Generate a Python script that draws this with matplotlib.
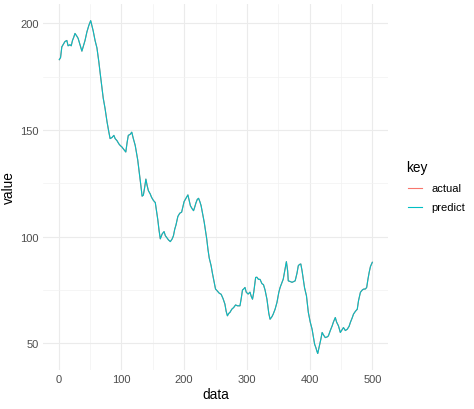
import matplotlib
matplotlib.use("Agg")
import matplotlib.pyplot as plt
from matplotlib.lines import Line2D
import numpy as np

plt.rcParams['font.family'] = ['Liberation Sans', 'DejaVu Sans']

data_x = [1, 3, 5, 7, 10, 13, 15, 18, 20, 22, 24, 26, 29, 31, 34, 37, 39, 42, 45, 48,
          51, 53, 55, 58, 61, 64, 66, 69, 71, 74, 77, 80, 82, 85, 88, 90, 93, 96, 98, 101,
          103, 107, 109, 111, 114, 116.5, 119, 122, 126, 129, 131, 133, 135, 137, 139, 141, 143, 146, 148, 151,
          154, 156, 158, 160, 162, 165, 168, 170, 172, 175, 178, 181, 183, 185, 187, 190, 193, 196, 198, 200,
          203, 206, 208, 210, 213, 215, 217, 219, 221, 223, 225, 227, 230, 232, 234, 236, 238, 240, 243, 245,
          247, 250, 253, 256, 259, 262, 265, 267, 269, 271, 273, 276, 279, 282, 285, 289, 291, 293, 295, 297,
          299, 302, 305, 307, 309, 311, 314, 316, 318.5, 321, 324, 326.5, 329, 332, 335, 337, 340, 342, 345, 348,
          351, 353, 356, 358, 361, 363, 365, 366, 369, 372, 375, 377, 380, 382, 384, 386, 388, 390, 392, 395,
          397, 398, 401, 404, 406, 408, 410, 412, 413, 415, 418, 420, 422, 425, 428, 430, 433, 436, 438, 441,
          443, 446, 449, 451, 454, 457, 460, 463, 465, 468, 470, 473, 476, 478, 481, 484, 486, 489, 491, 493,
          495, 497, 500]

predict = [183, 184, 189, 190, 191.5, 192, 189.5, 190, 189.5, 192, 193.5, 195.3, 194, 193, 190, 187, 189, 192, 196, 199,
           201.3, 199, 196.5, 192, 188.5, 182, 177, 170, 165, 160, 154, 149, 146, 146.5, 147.5, 146, 145, 143.5, 142.8, 142,
           141.2, 139.7, 144, 147.5, 148, 149, 146, 142.8, 136, 129, 124, 119, 119.5, 123, 127, 124, 121.6, 120, 118.5, 117,
           116, 112, 108, 103, 99, 101.3, 102.4, 100.5, 99.7, 98.5, 97.7, 99, 100.5, 103.5, 105.5, 109.5, 111, 111.5, 114, 116.5,
           118, 119.6, 117, 114.5, 113, 112.2, 114, 116, 117.5, 118, 116.5, 114.6, 110, 106.8, 103, 99, 94, 90, 86.4, 83,
           80, 75.5, 74.5, 73.5, 73, 71, 68.4, 65, 62.9, 64, 64.5, 66, 66.8, 68, 67.6, 67.6, 71, 75, 75.5, 76.2,
           74, 73.1, 74, 72, 70.7, 74, 80.9, 81, 80, 80, 78, 77.5, 75, 70.7, 64, 61.3, 62.5, 63.7, 66, 69.2,
           74, 76.2, 78.5, 80.1, 85, 88.3, 84, 79.3, 79, 78.6, 79, 79.3, 83, 86.4, 87, 87.2, 84, 80.1, 76, 72.3,
           67, 64.5, 60, 56.6, 53, 49.6, 48, 46, 45.3, 48, 52, 55.1, 54, 52.7, 53, 53.5, 56, 58.2, 60, 62.1,
           60, 58.2, 55.1, 56, 57.4, 56, 56.6, 58, 59.8, 62, 63.7, 65, 66, 70, 73.9, 75, 75.4, 75.5, 76.2, 80,
           83.3, 86, 88]

actual = list(predict)

series_names = ["actual", "predict"]
series_colors = ["#F8766D", "#00BFC4"]
x_ticks = [0, 100, 200, 300, 400, 500]
y_ticks = [50, 100, 150, 200]

W, H = 474, 410
fig = plt.figure(figsize=(W / 100, H / 100), dpi=100)
ax = fig.add_axes([43 / W, 1 - 371 / H, (388 - 43) / W, (371 - 5) / H])

ax.plot(data_x, actual, color=series_colors[0], lw=0.8, zorder=3)
ax.plot(data_x, predict, color=series_colors[1], lw=0.8, zorder=4)

xmin, xmax = 0, 500
dx = (xmax - xmin) * 0.05
ax.set_xlim(xmin - dx, xmax + dx)
ymin, ymax = min(predict), max(predict)
dy = (ymax - ymin) * 0.05
ax.set_ylim(ymin - dy, ymax + dy)

ax.set_xticks(x_ticks)
ax.set_yticks(y_ticks)
ax.set_xticks([50, 150, 250, 350, 450], minor=True)
ax.set_yticks([75, 125, 175], minor=True)
ax.grid(which='major', color='#EBEBEB', lw=0.8)
ax.grid(which='minor', color='#F2F2F2', lw=0.5)
ax.set_axisbelow(True)
for s in ax.spines.values():
    s.set_visible(False)
ax.tick_params(which='both', length=0)
ax.tick_params(axis='both', labelsize=8, labelcolor='#4D4D4D', pad=3)
ax.set_xlabel("data", fontsize=9.8, color='black', labelpad=2)
ax.set_ylabel("value", fontsize=9.8, color='black', labelpad=3)

# legend (ggplot style, drawn manually)
fig.text(406 / W, 1 - 168 / H, "key", fontsize=9.8, ha='left', va='center')
for i, (name, col) in enumerate(zip(series_names, series_colors)):
    yy = 1 - (189 + 19 * i) / H
    fig.add_artist(Line2D([408 / W, 422 / W], [yy, yy], color=col, lw=0.8,
                          transform=fig.transFigure))
    fig.text(431 / W, yy, name, fontsize=8, ha='left', va='center')

fig.savefig("out.png", dpi=100)
